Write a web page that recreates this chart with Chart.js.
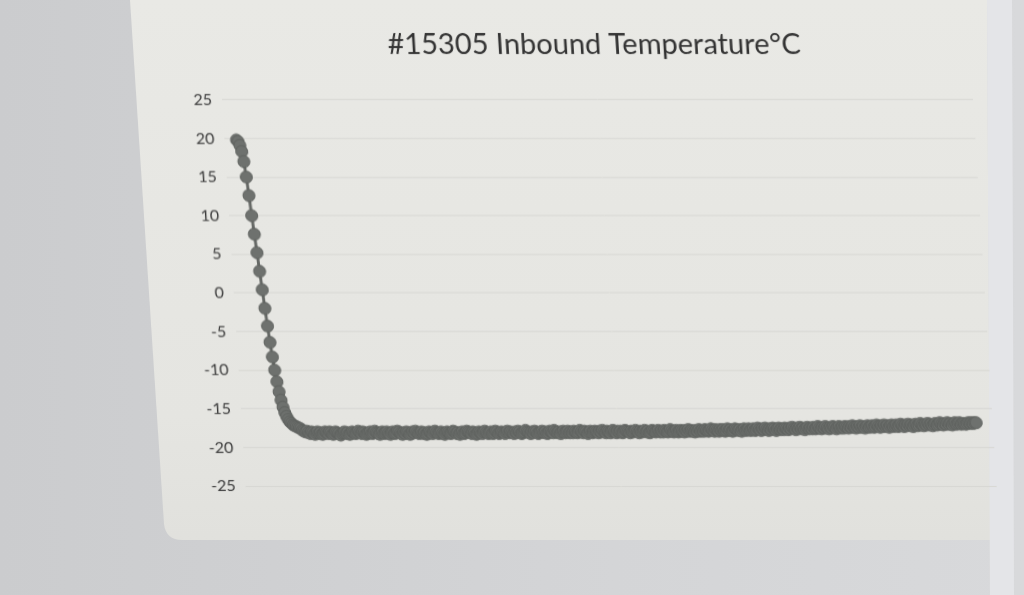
<!DOCTYPE html>
<html>
<head>
<meta charset="utf-8">
<title>#15305 Inbound Temperature</title>
<script src="https://cdn.jsdelivr.net/npm/chart.js@4.4.1/dist/chart.umd.min.js"></script>
<style>
    html, body {
        margin: 0;
        padding: 0;
        width: 1024px;
        height: 595px;
        overflow: hidden;
        background: linear-gradient(90deg, #cbccce 0%, #d4d5d7 60%, #d8d9db 100%);
    }
    .sheet {
        position: absolute;
        left: 0;
        top: 0;
        width: 1024px;
        height: 595px;
        background: linear-gradient(180deg, #e9e9e5 0%, #e5e5e1 70%, #dfdfdb 100%);
        clip-path: path('M 130 0 L 987 0 L 990 540 L 182 540 Q 166 540 164 524 Z');
    }
    .edge {
        position: absolute;
        left: 0;
        top: 0;
        width: 1024px;
        height: 595px;
        background: #e4e5e8;
        clip-path: polygon(987px 0, 1012px 0, 1014px 595px, 990px 595px);
    }
    .wrap {
        position: absolute;
        left: 0;
        top: 0;
        width: 1024px;
        height: 595px;
        transform: skewX(3.5deg);
        transform-origin: 0 296px;
    }
</style>
</head>
<body>
<div class="sheet"></div>
<div class="edge"></div>
<div class="wrap">
    <canvas id="tempChart" width="1024" height="595"></canvas>
</div>
<script>

const chartTitle = "#15305 Inbound Temperature°C";

// y axis tick labels
const yTicks = [25, 20, 15, 10, 5, 0, -5, -10, -15, -20, -25];

// cool-down at the start of the trip
const coolDown = [
    19.8, 19.6, 19.1, 18.3, 17.0, 15.0, 12.6, 10.0, 7.6, 5.2,
    2.8, 0.4, -2.0, -4.3, -6.4, -8.3, -10.0, -11.5, -12.8, -13.9,
    -14.8, -15.5, -16.0, -16.4, -16.7, -16.9, -17.1, -17.2, -17.3, -17.4,
    -17.5
];

// frozen leg
const frozen = [
    -17.6, -17.8, -17.9, -18.0, -17.9, -18.1, -18.2, -18.0, -18.1, -18.3, -18.1, -18.0, -18.2, -18.1, -18.3, -18.2, -18.0, -18.1, -18.2, -18.0,
    -18.1, -18.3, -18.2, -18.0, -18.1, -18.2, -18.4, -18.2, -18.1, -18.0, -18.2, -18.1, -18.3, -18.2, -18.0, -18.1, -18.2, -18.1, -17.9, -18.1,
    -18.2, -18.0, -18.1, -18.3, -18.2, -18.1, -18.0, -18.2, -18.1, -17.9, -18.1, -18.2, -18.3, -18.1, -18.0, -18.2, -18.1, -18.0, -18.2, -18.3,
    -18.1, -18.0, -18.2, -18.1, -17.9, -18.0, -18.2, -18.3, -18.1, -18.2, -18.0, -18.1, -18.3, -18.2, -18.0, -18.1, -17.9, -18.1, -18.2, -18.1,
    -18.0, -18.2, -18.1, -18.3, -18.2, -18.0, -18.1, -18.2, -18.0, -17.9, -18.1, -18.2, -18.1, -18.0, -18.2, -18.3, -18.1, -18.0, -18.1, -18.2,
    -18.1, -17.9, -18.0, -18.2, -18.1, -18.3, -18.1, -18.0, -18.2, -18.1, -17.9, -18.0, -18.1, -18.2, -18.0, -18.1, -18.3, -18.2, -18.0, -18.1,
    -18.2, -18.0, -17.9, -18.1, -18.2, -18.1, -18.0, -18.2, -18.1, -17.9, -18.0, -18.2, -18.1, -18.0, -18.1, -18.2, -18.0, -17.9, -18.1, -18.0,
    -18.1, -18.2, -18.0, -18.1, -17.9, -18.0, -18.2, -18.1, -18.0, -17.8, -18.0, -18.1, -18.2, -18.0, -18.1, -17.9, -18.0, -18.2, -18.1, -18.0,
    -17.9, -18.1, -18.0, -18.2, -18.1, -17.9, -18.0, -18.1, -17.8, -18.0, -18.1, -18.0, -18.2, -18.0, -17.9, -18.1, -18.0, -17.9, -18.1, -18.0,
    -18.1, -17.9, -18.0, -18.1, -18.0, -17.8, -18.0, -18.1, -17.9, -18.0, -18.2, -18.0, -17.9, -18.1, -18.0, -17.9, -18.0, -18.1, -17.9, -18.0,
    -17.8, -18.0, -18.1, -17.9, -18.0, -18.1, -17.9, -17.8, -18.0, -18.1, -17.9, -18.0, -17.9, -18.1, -18.0, -17.8, -17.9, -18.0, -18.1, -17.9,
    -18.0, -17.9, -17.8, -18.0, -18.1, -17.9, -18.0, -17.9, -17.8, -18.0, -17.9, -18.1, -18.0, -17.8, -17.9, -18.0, -17.9, -17.8, -18.0, -17.9,
    -18.0, -17.8, -17.9, -18.0, -17.9, -17.7, -17.9, -18.0, -17.9, -17.8, -18.0, -17.9, -17.8, -17.9, -18.0, -17.8, -17.9, -17.7, -17.9, -17.8,
    -17.9, -18.0, -17.8, -17.9, -17.7, -17.9, -17.8, -17.9, -17.7, -17.8, -17.9, -17.8, -17.6, -17.8, -17.9, -17.7, -17.8, -17.9, -17.7, -17.8,
    -17.7, -17.9, -17.8, -17.6, -17.8, -17.7, -17.9, -17.8, -17.6, -17.7, -17.8, -17.7, -17.9, -17.7, -17.6, -17.8, -17.7, -17.6, -17.8, -17.7,
    -17.6, -17.8, -17.7, -17.5, -17.7, -17.8, -17.6, -17.7, -17.5, -17.7, -17.8, -17.6, -17.7, -17.5, -17.6, -17.8, -17.6, -17.5, -17.7, -17.6,
    -17.7, -17.5, -17.6, -17.7, -17.5, -17.6, -17.4, -17.6, -17.7, -17.5, -17.6, -17.4, -17.6, -17.5, -17.7, -17.5, -17.4, -17.6, -17.5, -17.6,
    -17.4, -17.6, -17.5, -17.3, -17.5, -17.6, -17.4, -17.5, -17.3, -17.5, -17.6, -17.4, -17.5, -17.3, -17.4, -17.6, -17.4, -17.3, -17.5, -17.4,
    -17.5, -17.3, -17.4, -17.5, -17.3, -17.4, -17.2, -17.4, -17.5, -17.3, -17.4, -17.2, -17.4, -17.3, -17.5, -17.3, -17.2, -17.4, -17.3, -17.2,
    -17.4, -17.3, -17.1, -17.3, -17.4, -17.2, -17.3, -17.1, -17.3, -17.2, -17.4, -17.2, -17.1, -17.3, -17.2, -17.1, -17.3, -17.2, -17.0, -17.2,
    -17.3, -17.1, -17.2, -17.0, -17.2, -17.1, -17.3, -17.1, -17.0, -17.2, -17.1, -16.9, -17.1, -17.2, -17.0, -17.1, -16.9, -17.1, -17.0, -17.2,
    -17.0, -16.9, -17.1, -17.0, -16.8, -17.0, -17.1, -16.9, -17.0, -16.8, -17.0, -16.9, -17.1, -16.9, -16.8, -17.0, -16.9, -16.8, -17.0, -16.9,
    -16.9, -17.0, -16.9, -16.8, -16.9, -16.8, -16.9, -16.8, -16.8
];

const temps = coolDown.concat(frozen);

document.addEventListener("DOMContentLoaded", () => {
    const ctx = document.getElementById("tempChart");

    const points = temps.map((t, i) => ({ x: i, y: t }));

    new Chart(ctx, {
        type: 'line',
        data: {
            datasets: [{
                label: "Temperature",
                data: points,
                borderColor: "#666966",
                borderWidth: 3,
                pointRadius: 6,
                pointBackgroundColor: "#6e716e",
                pointBorderColor: "#5f625f",
                pointBorderWidth: 1,
                tension: 0
            }]
        },
        options: {
            responsive: false,
            animation: false,
            layout: {
                padding: { left: 150, right: 39, top: 12, bottom: 109 }
            },
            plugins: {
                legend: { display: false },
                tooltip: { enabled: false },
                title: {
                    display: true,
                    text: chartTitle,
                    fullSize: false,
                    color: "#333333",
                    font: { family: 'Lato', size: 29, weight: 'normal' },
                    padding: { top: 15, bottom: 38 }
                }
            },
            scales: {
                x: {
                    type: 'linear',
                    display: false,
                    min: -8,
                    max: 490
                },
                y: {
                    min: yTicks[yTicks.length - 1],
                    max: yTicks[0],
                    afterBuildTicks: (scale) => {
                        scale.ticks = yTicks.map(v => ({ value: v }));
                    },
                    afterFit: (scale) => {
                        scale.width = 84;
                    },
                    border: { display: false },
                    grid: {
                        color: "#d7d7d3",
                        lineWidth: 1,
                        drawTicks: false
                    },
                    ticks: {
                        color: "#3a3a3a",
                        padding: 10,
                        font: { family: 'Lato', size: 16 }
                    }
                }
            }
        }
    });
});
</script>
</body>
</html>
